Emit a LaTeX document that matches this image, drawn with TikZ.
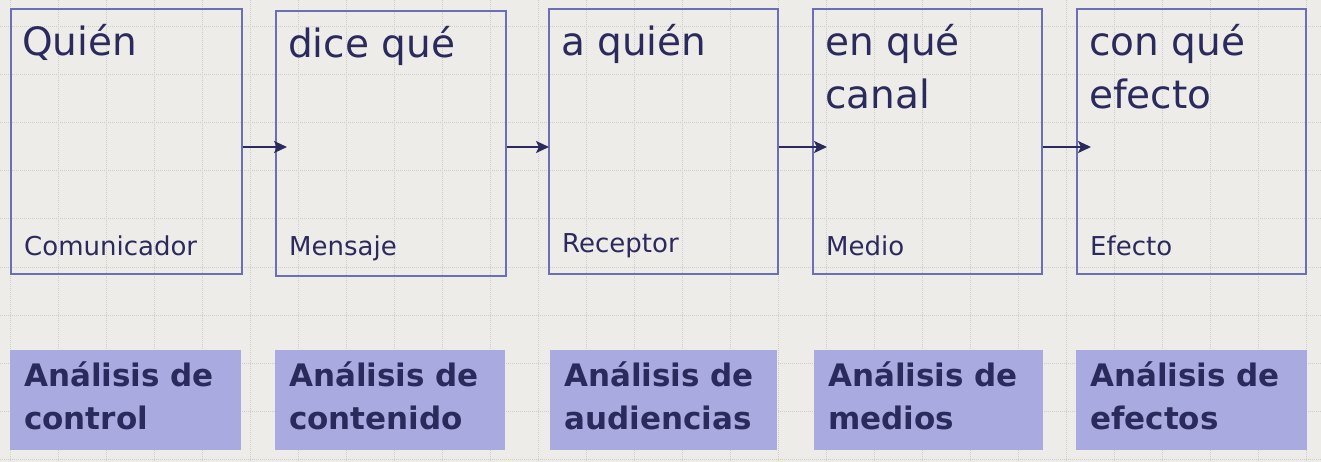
\documentclass[tikz,border=0pt]{standalone}
\usepackage{fontspec}
\setmainfont{DejaVu Sans}
\usetikzlibrary{arrows.meta}
\definecolor{bg}{HTML}{EEECE9}
\definecolor{gridc}{HTML}{CFCDCB}
\definecolor{edge}{HTML}{6B6FB5}
\definecolor{ink}{HTML}{2B2A5C}
\definecolor{fillc}{HTML}{A9AAE0}
\tikzset{
 box/.style={draw=edge,line width=2pt,anchor=north west,inner sep=0pt},
 ana/.style={fill=fillc,anchor=north west,minimum height=100pt,inner sep=0pt},
 big/.style={anchor=north west,text=ink,font=\fontsize{39}{53}\selectfont,align=left,inner sep=0pt},
 small/.style={anchor=west,text=ink,font=\fontsize{26}{30}\selectfont,inner sep=0pt},
 bold/.style={anchor=north west,text=ink,font=\fontsize{31}{43}\selectfont\bfseries,align=left,inner sep=0pt},
 arr/.style={draw=ink,line width=2pt,-{Stealth[length=13pt,width=12pt,inset=3pt]}}
}
\begin{document}
\begin{tikzpicture}[x=1pt,y=-1pt]
\fill[bg] (0,0) rectangle (1321,462);
\useasboundingbox (0,0) rectangle (1321,462);
\foreach \x in {10,58,...,1321} \draw[gridc,line width=1pt,densely dotted] (\x,0)--(\x,462);
\foreach \y in {27,75,...,462} \draw[gridc,line width=1pt,densely dotted] (0,\y)--(1321,\y);
% boxes
\node[box,minimum width=231pt,minimum height=265pt] (b1) at (10,8) {};
\node[box,minimum width=230pt,minimum height=265pt] (b2) at (275,10) {};
\node[box,minimum width=229pt,minimum height=265pt] (b3) at (548,8) {};
\node[box,minimum width=229pt,minimum height=265pt] (b4) at (812,8) {};
\node[box,minimum width=229pt,minimum height=265pt] (b5) at (1076,8) {};
\node[big] (t1) at (22,24) {Quién};
\node[big] (t2) at (288,26) {dice qué};
\node[big] (t3) at (561,24) {a quién};
\node[big] (t4) at (825,24) {en qué\\canal};
\node[big] (t5) at (1089,24) {con qué\\efecto};
\node[small] (s1) at (24,246) {Comunicador};
\node[small] (s2) at (289,248) {Mensaje};
\node[small] (s3) at (562,246) {Receptor};
\node[small] (s4) at (826,246) {Medio};
\node[small] (s5) at (1090,246) {Efecto};
\coordinate (e2) at (287,147);
\coordinate (e3) at (549,147);
\coordinate (e4) at (827,147);
\coordinate (e5) at (1091,147);
\draw[arr] (b1.east |- e2) -- (e2);
\draw[arr] (b2.east |- e3) -- (e3);
\draw[arr] (b3.east |- e4) -- (e4);
\draw[arr] (b4.east |- e5) -- (e5);
% analysis
\node[ana,minimum width=231pt] (a1) at (10,350) {};
\node[ana,minimum width=230pt] (a2) at (275,350) {};
\node[ana,minimum width=227pt] (a3) at (550,350) {};
\node[ana,minimum width=229pt] (a4) at (814,350) {};
\node[ana,minimum width=231pt] (a5) at (1076,350) {};
\node[bold] (l1) at (24,362) {Análisis de\\control};
\node[bold] (l2) at (289,362) {Análisis de\\contenido};
\node[bold] (l3) at (564,362) {Análisis de\\audiencias};
\node[bold] (l4) at (828,362) {Análisis de\\medios};
\node[bold] (l5) at (1090,362) {Análisis de\\efectos};
\end{tikzpicture}
\end{document}
